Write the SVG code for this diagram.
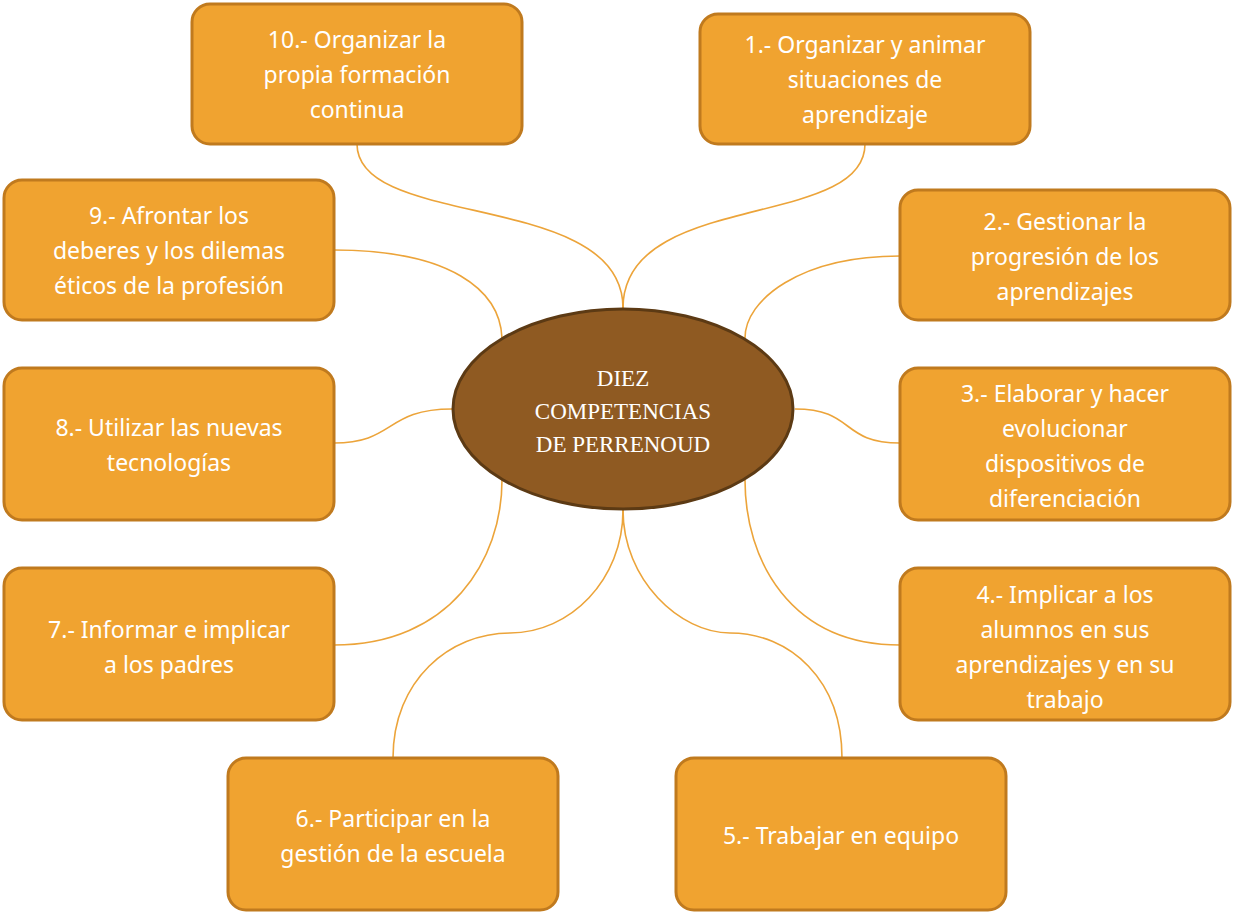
<svg xmlns="http://www.w3.org/2000/svg" width="1234" height="914" viewBox="0 0 1234 914">
<style>
.b{fill:#F0A330;stroke:#C07A1E;stroke-width:3}
.t{font-family:"Noto Sans","Open Sans",sans-serif;font-size:23px;fill:#fff;text-anchor:middle}
.c{fill:none;stroke:#ECA43A;stroke-width:1.6}
.h{font-family:"Liberation Serif",serif;font-size:23px;fill:#fff;text-anchor:middle}
</style>
<rect width="1234" height="914" fill="#fff"/>
<g id="connectors">
<path class="c" d="M357,144 C357,230 623,190 623,308"/>
<path class="c" d="M865,144 C865,230 623,190 623,308"/>
<path class="c" d="M334,250 C450,250 500,290 502,338"/>
<path class="c" d="M900,256 C800,256 745,300 745,338"/>
<path class="c" d="M334,443 C395,443 385,409 452,409"/>
<path class="c" d="M900,443 C840,443 855,409 795,409"/>
<path class="c" d="M334,645 C450,645 502,560 502,480"/>
<path class="c" d="M900,645 C790,645 745,560 745,480"/>
<path class="c" d="M393,758 C393,680 450,633 510,633 C570,633 623,580 623,510"/>
<path class="c" d="M842,758 C842,680 790,633 730,633 C680,633 623,580 623,510"/>
</g>
<g id="center"><ellipse cx="623" cy="409" rx="170" ry="100" fill="#8F5A22" stroke="#5C3A14" stroke-width="3"/>
<text class="h" x="623" y="386">DIEZ</text><text class="h" x="623" y="419">COMPETENCIAS</text><text class="h" x="623" y="452">DE PERRENOUD</text></g>
<g id="n10"><rect class="b" x="192" y="4" width="330" height="140" rx="18"/><text class="t" x="357" y="48">10.- Organizar la</text><text class="t" x="357" y="83">propia formación</text><text class="t" x="357" y="118">continua</text></g>
<g id="n1"><rect class="b" x="700" y="14" width="330" height="130" rx="18"/><text class="t" x="865" y="53">1.- Organizar y animar</text><text class="t" x="865" y="88">situaciones de</text><text class="t" x="865" y="123">aprendizaje</text></g>
<g id="n9"><rect class="b" x="4" y="180" width="330" height="140" rx="18"/><text class="t" x="169" y="224">9.- Afrontar los</text><text class="t" x="169" y="259">deberes y los dilemas</text><text class="t" x="169" y="294">éticos de la profesión</text></g>
<g id="n2"><rect class="b" x="900" y="190" width="330" height="130" rx="18"/><text class="t" x="1065" y="230">2.- Gestionar la</text><text class="t" x="1065" y="265">progresión de los</text><text class="t" x="1065" y="300">aprendizajes</text></g>
<g id="n8"><rect class="b" x="4" y="368" width="330" height="152" rx="18"/><text class="t" x="169" y="436">8.- Utilizar las nuevas</text><text class="t" x="169" y="471">tecnologías</text></g>
<g id="n3"><rect class="b" x="900" y="368" width="330" height="152" rx="18"/><text class="t" x="1065" y="402">3.- Elaborar y hacer</text><text class="t" x="1065" y="437">evolucionar</text><text class="t" x="1065" y="472">dispositivos de</text><text class="t" x="1065" y="507">diferenciación</text></g>
<g id="n7"><rect class="b" x="4" y="568" width="330" height="152" rx="18"/><text class="t" x="169" y="638">7.- Informar e implicar</text><text class="t" x="169" y="673">a los padres</text></g>
<g id="n4"><rect class="b" x="900" y="568" width="330" height="152" rx="18"/><text class="t" x="1065" y="603">4.- Implicar a los</text><text class="t" x="1065" y="638">alumnos en sus</text><text class="t" x="1065" y="673">aprendizajes y en su</text><text class="t" x="1065" y="708">trabajo</text></g>
<g id="n6"><rect class="b" x="228" y="758" width="330" height="152" rx="18"/><text class="t" x="393" y="827">6.- Participar en la</text><text class="t" x="393" y="862">gestión de la escuela</text></g>
<g id="n5"><rect class="b" x="676" y="758" width="330" height="152" rx="18"/><text class="t" x="841" y="844">5.- Trabajar en equipo</text></g>
</svg>
